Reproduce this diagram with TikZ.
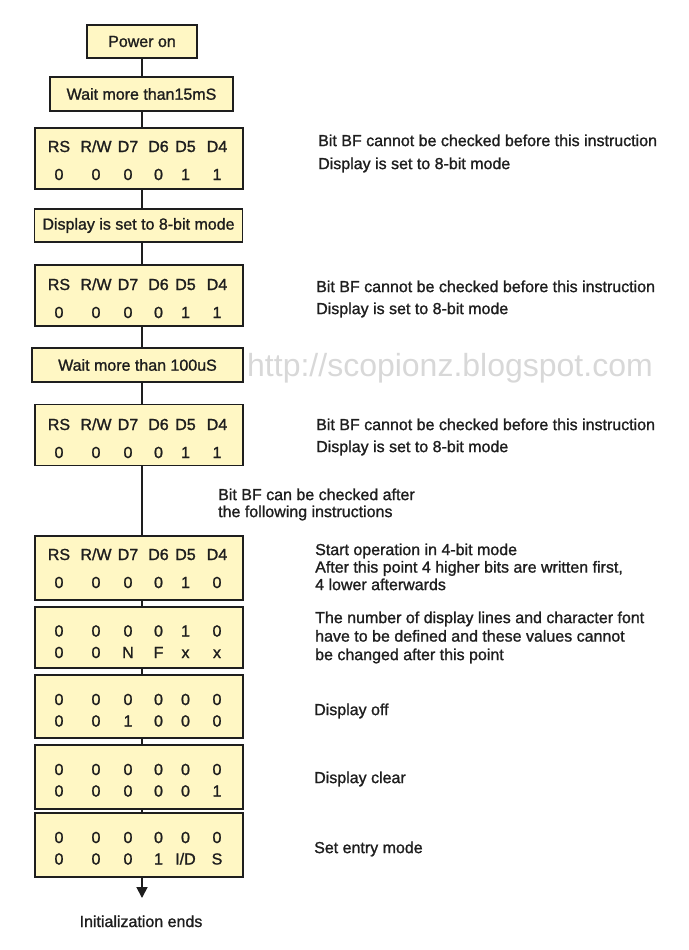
\documentclass[tikz,border=0pt]{standalone}
\usepackage{fontspec}
\setmainfont{Liberation Sans}[FakeBold=1.2]
\newfontfamily\sitefont{Liberation Sans}
\usetikzlibrary{arrows.meta}

\definecolor{boxfill}{RGB}{255,247,196}
\definecolor{ink}{RGB}{30,30,30}
\definecolor{wmark}{RGB}{216,216,216}

% one row of bit values inside a command box
\newcommand\bitrow[3]{%
  \foreach \bv [count=\bi] in {#3} {
    \pgfmathsetmacro\bx{{59,96,128,158.5,185.5,217}[\bi-1]}
    \node[cell] (#1-\bi) at (\bx,#2) {\bv};
  }}

\begin{document}
\begin{tikzpicture}[x=1pt,y=-1pt,
  every node/.style={font=\fontsize{16}{18}\selectfont,text=ink},
  box/.style={draw=ink,fill=boxfill,line width=1.8pt,inner sep=0pt,minimum width=208pt},
  cell/.style={anchor=base,inner sep=0pt},
  note/.style={anchor=north west,inner sep=0pt,align=left},
  link/.style={draw=ink,line width=1.8pt}]

	\useasboundingbox (0,0) rectangle (688,950);

	\node[text=wmark,font=\sitefont\fontsize{32}{36}\selectfont,anchor=base west,inner sep=0pt]
          (site) at (247,376) {http://scopionz.blogspot.com};

	\node[box,minimum width=110pt,minimum height=33pt] (power) at (142,41.5) {Power on};
	\node[box,minimum width=183pt,minimum height=34pt] (wait15) at (141.5,94) {Wait more than15mS};
	\node[box,minimum height=61pt] (cmd1) at (139,158.5) {};
	\node[box,minimum height=33pt] (mode8) at (138.5,225.5) {Display is set to 8-bit mode};
	\node[box,minimum height=61pt] (cmd2) at (139,295.5) {};
	\node[box,minimum width=211pt,minimum height=34pt] (wait100) at (137.5,365) {Wait more than 100uS};
	\node[box,minimum height=61pt] (cmd3) at (139,435) {};
	\node[box,minimum height=64pt] (cmd4) at (139,568) {};
	\node[box,minimum height=61pt] (fnset) at (139,637.5) {};
	\node[box,minimum height=63pt] (dispoff) at (139,706.5) {};
	\node[box,minimum height=64pt] (dispclr) at (139,777) {};
	\node[box,minimum height=64pt] (entry) at (139,845) {};

	\bitrow{cmd1h}{152}{RS,R/W,D7,D6,D5,D4}
	\bitrow{cmd1v}{180}{0,0,0,0,1,1}
	\bitrow{cmd2h}{290}{RS,R/W,D7,D6,D5,D4}
	\bitrow{cmd2v}{318}{0,0,0,0,1,1}
	\bitrow{cmd3h}{430}{RS,R/W,D7,D6,D5,D4}
	\bitrow{cmd3v}{458}{0,0,0,0,1,1}
	\bitrow{cmd4h}{560}{RS,R/W,D7,D6,D5,D4}
	\bitrow{cmd4v}{588}{0,0,0,0,1,0}
	\bitrow{fnseta}{636.5}{0,0,0,0,1,0}
	\bitrow{fnsetb}{658}{0,0,N,F,x,x}
	\bitrow{dispoffa}{705}{0,0,0,0,0,0}
	\bitrow{dispoffb}{726.5}{0,0,1,0,0,0}
	\bitrow{dispclra}{775}{0,0,0,0,0,0}
	\bitrow{dispclrb}{796.5}{0,0,0,0,0,1}
	\bitrow{entrya}{843}{0,0,0,0,0,0}
	\bitrow{entryb}{864.5}{0,0,0,1,I/D,S}

	% connectors down the spine
	\coordinate (spine) at (142,0);
	\foreach \a/\b in {power/wait15,wait15/cmd1,cmd1/mode8,mode8/cmd2,cmd2/wait100,
          wait100/cmd3,cmd3/cmd4,cmd4/fnset,fnset/dispoff,dispoff/dispclr,dispclr/entry}
	  \draw[link] (spine |- \a.south) -- (spine |- \b.north);

	\coordinate (endtip) at (142,898);
	\draw[link,-{Triangle[width=11pt,length=11pt]}] (spine |- entry.south) -- (endtip);
	\node[anchor=base] (initend) at (141,927) {Initialization ends};

	\node[note,font=\fontsize{16}{23}\selectfont] (note1) at (318,134.3)
          {Bit BF cannot be checked before this instruction\\Display is set to 8-bit mode};
	\node[note,font=\fontsize{16}{22}\selectfont] (note2) at (316,280.3)
          {Bit BF cannot be checked before this instruction\\Display is set to 8-bit mode};
	\node[note,font=\fontsize{16}{22}\selectfont] (note3) at (316,418.3)
          {Bit BF cannot be checked before this instruction\\Display is set to 8-bit mode};
	\node[note,font=\fontsize{16}{17}\selectfont] (note4) at (218,488.3)
          {Bit BF can be checked after\\the following instructions};
	\node[note,font=\fontsize{16}{17.5}\selectfont] (note5) at (315,543.3)
          {Start operation in 4-bit mode\\After this point 4 higher bits are written first,\\4 lower afterwards};
	\node[note,font=\fontsize{16}{18.5}\selectfont] (note6) at (315,611.3)
          {The number of display lines and character font\\have to be defined and these values cannot\\be changed after this point};
	\node[note] (note7) at (314,703.3) {Display off};
	\node[note] (note8) at (314,771.3) {Display clear};
	\node[note] (note9) at (314,841.3) {Set entry mode};

\end{tikzpicture}
\end{document}
